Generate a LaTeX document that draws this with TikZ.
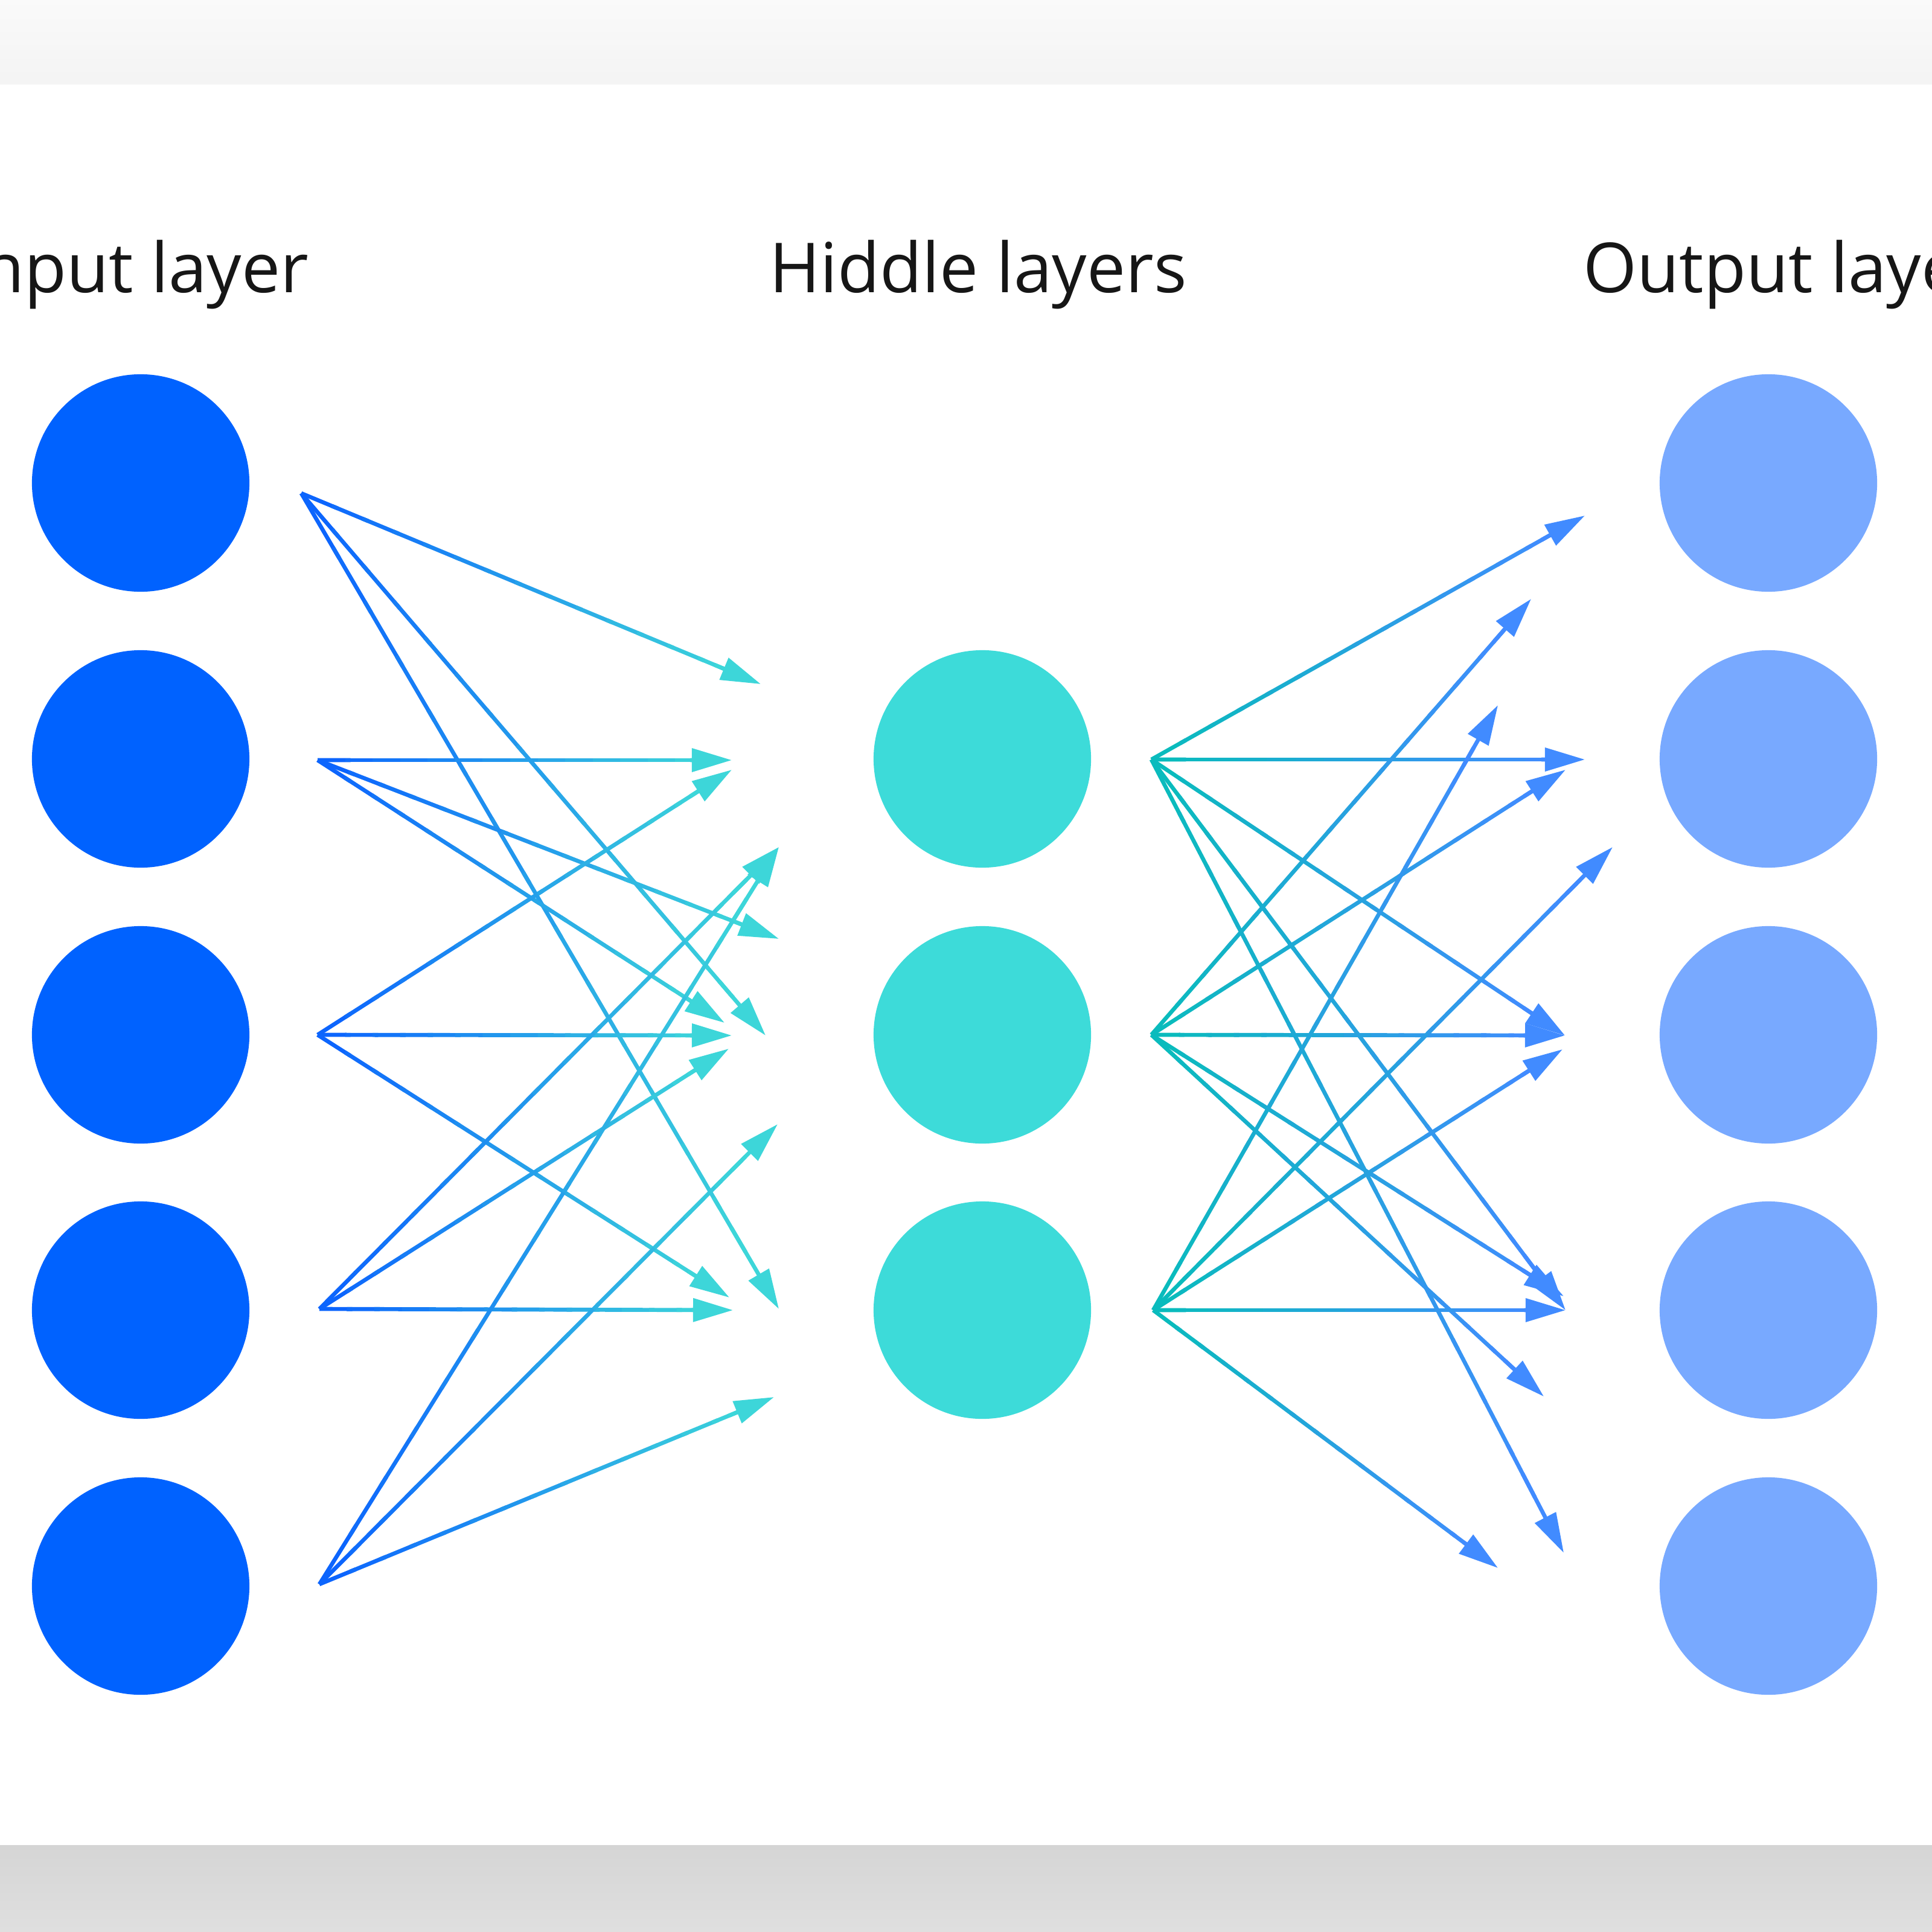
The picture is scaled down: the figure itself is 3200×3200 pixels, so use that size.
\documentclass[tikz,border=0pt]{standalone}
\usepackage{fontspec}
\setmainfont{Open Sans}
\usetikzlibrary{calc,arrows.meta}
\definecolor{inblue}{HTML}{0062FF}
\definecolor{hidteal}{HTML}{3DDBD9}
\definecolor{outblue}{HTML}{78A9FF}
\definecolor{ltail}{HTML}{0A60FF}
\definecolor{lhead}{HTML}{3DD6D9}
\definecolor{rtail}{HTML}{08BDBA}
\definecolor{rhead}{HTML}{418BFF}
\definecolor{labelink}{HTML}{161616}
\tikzset{
  neuron/.style={circle,minimum size=3.6cm,inner sep=0,draw=none},
  conn/.style={line width=1.9pt,line cap=butt},
  tipstyle/.style={-{Triangle[length=0.66cm,width=0.38cm]}},
  layerlabel/.style={inner sep=0,text=labelink,font=\fontsize{32.5}{39}\selectfont}
}
% gradient connector between two named coordinates
\newcommand\gline[4]{%
  \foreach \k in {0,...,13}{%
    \pgfmathsetmacro\ta{\k*0.93/14}%
    \pgfmathsetmacro\tb{min(0.93,(\k+1.2)*0.93/14)}%
    \pgfmathtruncatemacro\mix{round(100*(\k+0.5)/14)}%
    \draw[conn,#4!\mix!#3] ($(#1)!\ta!(#2)$) -- ($(#1)!\tb!(#2)$);
  }%
  \draw[conn,#4,tipstyle] ($(#1)!0.9!(#2)$) -- (#2);
}
\begin{document}
\begin{tikzpicture}[x=0.01cm,y=-0.01cm]
\useasboundingbox (0,0) rectangle (3200,3200);
\fill[white] (0,0) rectangle (3200,3200);
\shade[top color=black!2,bottom color=black!4.5] (0,0) rectangle (3200,140);
\shade[top color=black!16.5,bottom color=black!12.5] (0,3056) rectangle (3200,3200);

% labels
\node[layerlabel,anchor=base east] (lin) at (512,484) {Input layer};
\node[layerlabel,anchor=base] (lhid) at (1620,484) {Hiddle layers};
\node[layerlabel,anchor=base west] (lout) at (2622,484) {Output layer};

% neurons
\foreach \n/\y in {1/800,2/1257,3/1714,4/2170,5/2627}{
  \node[neuron,fill=inblue] (i\n) at (233,\y) {};
  \node[neuron,fill=outblue] (o\n) at (2929,\y) {};
}
\foreach \n/\y in {1/1257,2/1714,3/2170}{
  \node[neuron,fill=hidteal] (h\n) at (1627,\y) {};
}

% left tails and heads
\coordinate (a1) at (499,817);
\coordinate (a2) at (526,1259);
\coordinate (a3) at (526,1714);
\coordinate (a4) at (529,2168);
\coordinate (a5) at (529,2624);
\coordinate (p1) at (1260,1133);
\coordinate (p2) at (1212,1259);
\coordinate (p3) at (1212,1275);
\coordinate (p4) at (1290,1403);
\coordinate (p5) at (1290,1555);
\coordinate (p6) at (1200,1694);
\coordinate (p7) at (1268,1715);
\coordinate (p8) at (1212,1715);
\coordinate (p9) at (1207,1737);
\coordinate (p10) at (1288,1862);
\coordinate (p11) at (1208,2149);
\coordinate (p12) at (1290,2168);
\coordinate (p13) at (1214,2170);
\coordinate (p14) at (1282,2314);

% right tails and heads
\coordinate (b1) at (1907,1258);
\coordinate (b2) at (1907,1714);
\coordinate (b3) at (1910,2170);
\coordinate (q1) at (2625,854);
\coordinate (q2) at (2536,992);
\coordinate (q3) at (2481,1168);
\coordinate (q4) at (2625,1258);
\coordinate (q5) at (2593,1275);
\coordinate (q6) at (2671,1403);
\coordinate (q7) at (2592,1715);
\coordinate (q8) at (2588,1738);
\coordinate (q9) at (2590,2147);
\coordinate (q10) at (2593,2170);
\coordinate (q11) at (2557,2313);
\coordinate (q12) at (2590,2572);
\coordinate (q13) at (2481,2597);

% input -> hidden connectors
\foreach \s/\t in {a1/p1,a1/p7,a1/p12,a2/p2,a2/p5,a2/p6,a3/p3,a3/p8,a3/p11,a4/p4,a4/p9,a4/p13,a5/p4,a5/p10,a5/p14}{
  \gline{\s}{\t}{ltail}{lhead}
}
% hidden -> output connectors
\foreach \s/\t in {b1/q1,b1/q4,b1/q7,b1/q10,b1/q12,b2/q2,b2/q5,b2/q7,b2/q9,b2/q11,b3/q3,b3/q6,b3/q8,b3/q10,b3/q13}{
  \gline{\s}{\t}{rtail}{rhead}
}
\end{tikzpicture}
\end{document}
